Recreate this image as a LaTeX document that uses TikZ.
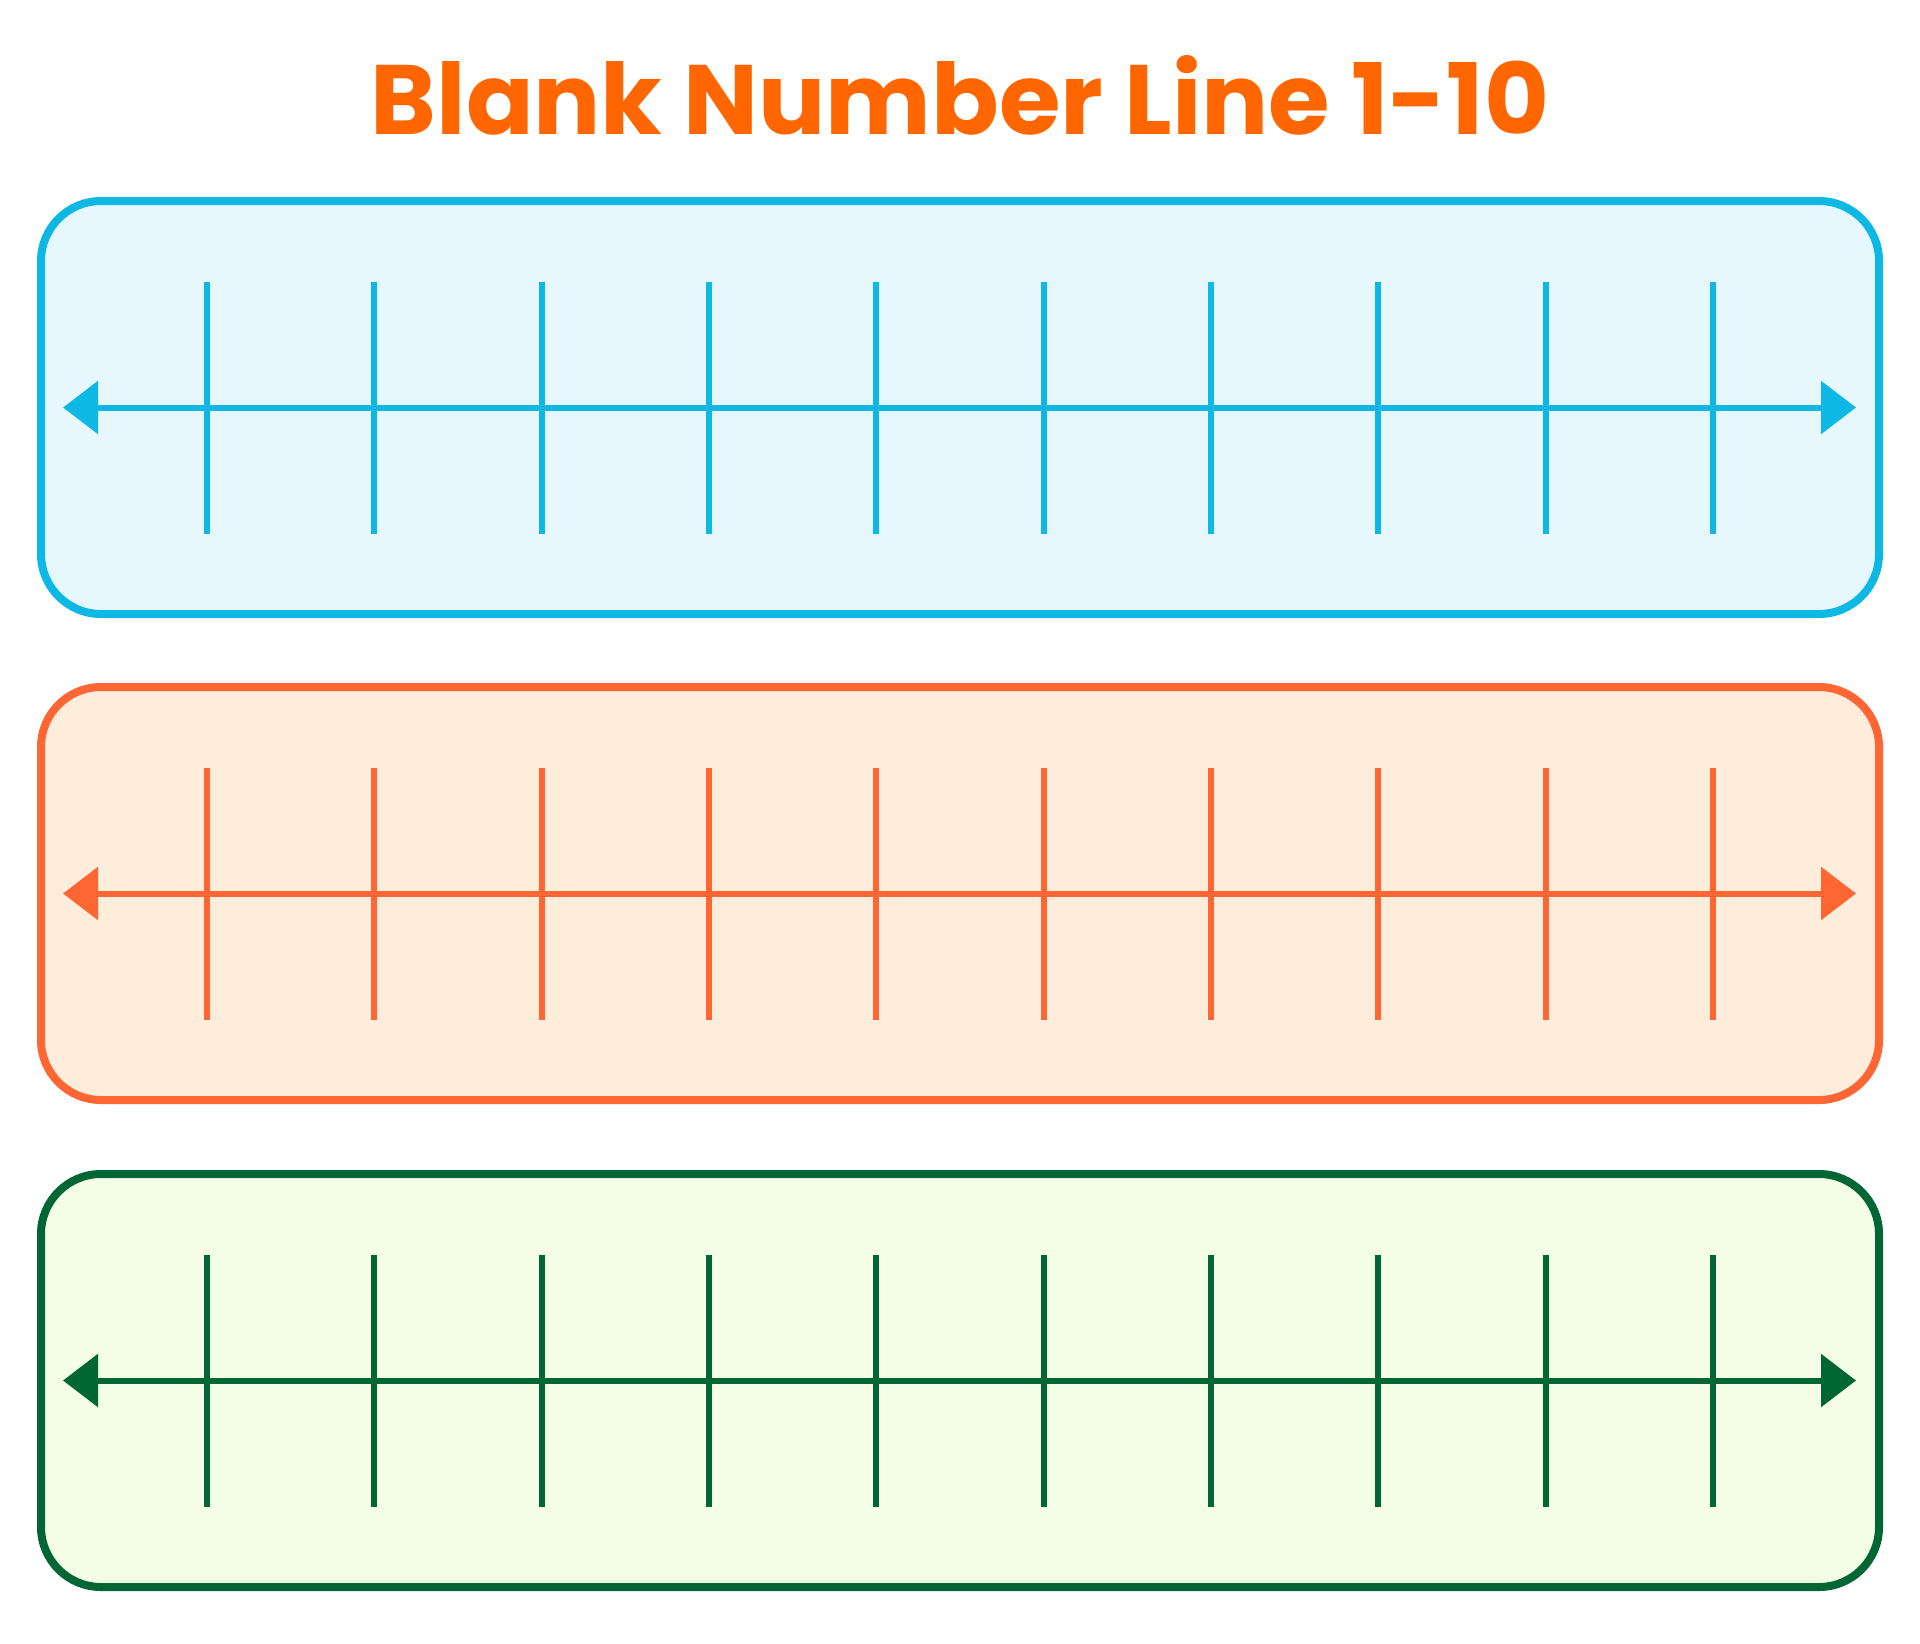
\documentclass[tikz,border=0pt]{standalone}
\usepackage{fontspec}
\setmainfont{Poppins}[BoldFont={* Bold}]
\usetikzlibrary{arrows.meta}
\definecolor{titleorange}{HTML}{FF6600}
\definecolor{blueline}{HTML}{0DB8E4}
\definecolor{bluefill}{HTML}{E6F8FE}
\definecolor{orangeline}{HTML}{FF6633}
\definecolor{orangefill}{HTML}{FEEDDA}
\definecolor{greenline}{HTML}{006633}
\definecolor{greenfill}{HTML}{F4FDE6}
\tikzset{
  panel/.style={draw=#1line, fill=#1fill, line width=8pt, rounded corners=60pt,
    minimum width=1838pt, minimum height=413pt, inner sep=0pt},
  axisline/.style={draw=#1line, line width=6pt,
    {Triangle[length=35pt,width=52pt]}-{Triangle[length=35pt,width=52pt]}},
  tickline/.style={draw=#1line, line width=6pt},
}
\begin{document}
\begin{tikzpicture}[x=1pt,y=-1pt]
\useasboundingbox (0,0) rectangle (1920,1644);
\node[text=titleorange, inner sep=0pt, anchor=south] (title) at (960,135)
  {\resizebox{1178pt}{79pt}{\bfseries Blank Number Line 1-10}};
\foreach \col/\cy [count=\r] in {blue/407.5, orange/893.5, green/1380.5}{
  \node[panel=\col] (box\r) at (960,\cy) {};
  \coordinate (l\r) at (63,\cy);
  \coordinate (e\r) at (1856,\cy);
  \draw[axisline=\col] (l\r) -- (e\r);
  \foreach \i in {0,...,9}{
    \coordinate (t\r a\i) at ({207+167.33*\i},\cy-126);
    \coordinate (t\r b\i) at ({207+167.33*\i},\cy+126);
    \draw[tickline=\col] (t\r a\i) -- (t\r b\i);
  }
}
\end{tikzpicture}
\end{document}
